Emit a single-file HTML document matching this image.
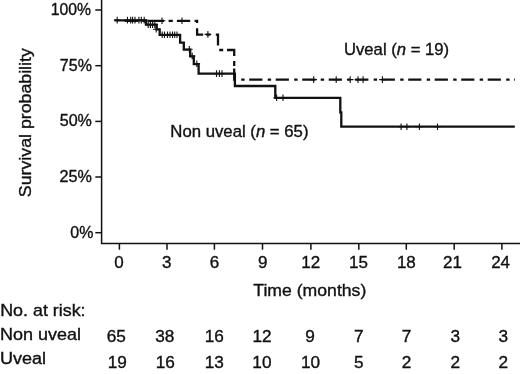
<!DOCTYPE html><html><head><meta charset="utf-8"><title>Survival</title><style>html,body{margin:0;padding:0;background:#fff}svg{display:block}text{font-family:"Liberation Sans",Arial,Helvetica,sans-serif;fill:#111;stroke:#111;stroke-width:0.35px}</style></head><body>
<svg width="520" height="374" viewBox="0 0 520 374">
<rect width="520" height="374" fill="#fff"/>
<g stroke="#111" stroke-width="1.5" fill="none">
<path d="M101.6 0V243.5H520"/>
<path d="M95.3 232.7H101.6"/>
<path d="M95.3 177.0H101.6"/>
<path d="M95.3 121.4H101.6"/>
<path d="M95.3 65.7H101.6"/>
<path d="M95.3 10.0H101.6"/>
<path d="M119.4 243.5V249.7"/>
<path d="M167.0 243.5V249.7"/>
<path d="M214.4 243.5V249.7"/>
<path d="M262.5 243.5V249.7"/>
<path d="M310.9 243.5V249.7"/>
<path d="M358.8 243.5V249.7"/>
<path d="M406.3 243.5V249.7"/>
<path d="M454.2 243.5V249.7"/>
<path d="M501.9 243.5V249.7"/>
</g>
<text transform="translate(50.67 14.95) scale(0.9725 1)" font-size="16.2">100%</text>
<text transform="translate(59.85 70.70) scale(0.9896 1)" font-size="16.2">75%</text>
<text transform="translate(59.71 126.25) scale(0.9941 1)" font-size="16.2">50%</text>
<text transform="translate(59.54 181.75) scale(0.9993 1)" font-size="16.2">25%</text>
<text transform="translate(70.31 237.65) scale(0.9868 1)" font-size="16.2">0%</text>
<text transform="translate(114.24 267.55) scale(1.0000 1)" font-size="17.0">0</text>
<text transform="translate(161.93 267.55) scale(1.0000 1)" font-size="17.0">3</text>
<text transform="translate(209.80 267.55) scale(1.0000 1)" font-size="17.0">6</text>
<text transform="translate(257.88 267.55) scale(1.0000 1)" font-size="17.0">9</text>
<text transform="translate(301.20 267.55) scale(1.0000 1)" font-size="17.0">12</text>
<text transform="translate(348.97 267.55) scale(1.0000 1)" font-size="17.0">15</text>
<text transform="translate(396.92 267.55) scale(1.0000 1)" font-size="17.0">18</text>
<text transform="translate(443.02 267.55) scale(1.0000 1)" font-size="17.0">21</text>
<text transform="translate(491.14 267.55) scale(1.0000 1)" font-size="17.0">24</text>
<text transform="translate(253.30 295.75) scale(1.0440 1)" font-size="16.9">Time (months)</text>
<text transform="translate(0.22 315.95) scale(1.1170 1)" font-size="16">No. at risk:</text>
<text transform="translate(-0.09 340.40) scale(1.1251 1)" font-size="16">Non uveal</text>
<text transform="translate(-0.00 364.30) scale(1.1284 1)" font-size="16">Uveal</text>
<text transform="translate(344.00 54.90) scale(1.0413 1)" font-size="16">Uveal (<tspan font-style="italic">n</tspan> = 19)</text>
<text transform="translate(170.31 137.45) scale(1.0665 1)" font-size="15.7">Non uveal (<tspan font-style="italic">n</tspan> = 65)</text>
<text transform="translate(30.8 197.15) rotate(-90) scale(1.0273 1)" font-size="17.3">Survival probability</text>
<text transform="translate(106.76 341.60) scale(1.0500 1)" font-size="16.4">65</text>
<text transform="translate(155.29 341.60) scale(1.0500 1)" font-size="16.4">38</text>
<text transform="translate(204.69 341.60) scale(1.0500 1)" font-size="16.4">16</text>
<text transform="translate(252.48 341.60) scale(1.0500 1)" font-size="16.4">12</text>
<text transform="translate(305.22 341.60) scale(1.0500 1)" font-size="16.4">9</text>
<text transform="translate(354.07 341.60) scale(1.0500 1)" font-size="16.4">7</text>
<text transform="translate(401.87 341.60) scale(1.0500 1)" font-size="16.4">7</text>
<text transform="translate(450.62 341.60) scale(1.0500 1)" font-size="16.4">3</text>
<text transform="translate(498.42 341.60) scale(1.0500 1)" font-size="16.4">3</text>
<text transform="translate(107.68 368.00) scale(1.0500 1)" font-size="16.4">19</text>
<text transform="translate(155.69 368.00) scale(1.0500 1)" font-size="16.4">16</text>
<text transform="translate(204.69 368.00) scale(1.0500 1)" font-size="16.4">13</text>
<text transform="translate(252.35 368.00) scale(1.0500 1)" font-size="16.4">10</text>
<text transform="translate(301.05 368.00) scale(1.0500 1)" font-size="16.4">10</text>
<text transform="translate(354.07 368.00) scale(1.0500 1)" font-size="16.4">5</text>
<text transform="translate(401.87 368.00) scale(1.0500 1)" font-size="16.4">2</text>
<text transform="translate(450.62 368.00) scale(1.0500 1)" font-size="16.4">2</text>
<text transform="translate(498.42 368.00) scale(1.0500 1)" font-size="16.4">2</text>
<path d="M114.5 20.3 L146 20.3 L146 24.7 L156.7 24.7 L156.7 29.3 L159.7 29.3 L159.7 34.8 L180.1 34.8 L180.1 42.6 L183.8 42.6 L183.8 49.7 L190.2 49.7 L190.2 56.3 L193.8 56.3 L193.8 64.1 L198.6 64.1 L198.6 73.6 L234.9 73.6 L234.9 86.0 L275.3 86.0 L275.3 97.8 L340.3 97.8 L340.3 112.3 L341.3 112.3 L341.3 126.7 L514.8 126.7" fill="none" stroke="#111" stroke-width="2.3" stroke-linejoin="miter"/>
<path d="M124.7 20.8H137.9M142.3 20.8H146.6M147.5 20.8H164.0M168.6 20.8H172.8M176.9 20.8H190.2M194.6 20.8H197.1V23.1M197.1 28.2V34.6H203.2M206.2 34.6H210.4M215.8 34.6H218.0V45.6M219.2 50.0H223.2M227.0 50.0H234.2V56M234.2 61V66M234.2 68.4V79.6H235M241.2 79.6H244.6M249.2 79.6H262.4M267.7 79.6H271.1M275.7 79.6H288.9M294.2 79.6H297.6M302.2 79.6H315.4M320.7 79.6H324.1M328.7 79.6H341.9M347.2 79.6H350.6M355.2 79.6H368.4M373.7 79.6H377.1M381.7 79.6H394.9M400.2 79.6H403.6M408.2 79.6H421.4M426.7 79.6H430.1M434.7 79.6H447.9M453.2 79.6H456.6M461.2 79.6H474.4M479.7 79.6H483.1M487.7 79.6H500.9M506.2 79.6H509.6M514.2 79.6H515.0" fill="none" stroke="#111" stroke-width="2.3" stroke-linejoin="miter"/>
<path d="M113.9 20.1H120.5M117.2 16.8V23.400000000000002M124.2 20.1H130.8M127.5 16.8V23.400000000000002M127.39999999999999 20.1H134.0M130.7 16.8V23.400000000000002M129.29999999999998 20.1H135.9M132.6 16.8V23.400000000000002M131.7 20.1H138.3M135 16.8V23.400000000000002M135.6 20.1H142.20000000000002M138.9 16.8V23.400000000000002M138.0 20.1H144.60000000000002M141.3 16.8V23.400000000000002M140.89999999999998 20.1H147.5M144.2 16.8V23.400000000000002M144.89999999999998 24.7H151.5M148.2 21.4V28.0M147.1 24.7H153.70000000000002M150.4 21.4V28.0M149.29999999999998 24.7H155.9M152.6 21.4V28.0M151.5 24.7H158.10000000000002M154.8 21.4V28.0M152.89999999999998 29.3H159.5M156.2 26.0V32.6M158.89999999999998 34.8H165.5M162.2 31.499999999999996V38.099999999999994M161.2 34.8H167.8M164.5 31.499999999999996V38.099999999999994M164.2 34.8H170.8M167.5 31.499999999999996V38.099999999999994M166.7 34.8H173.3M170 31.499999999999996V38.099999999999994M169.2 34.8H175.8M172.5 31.499999999999996V38.099999999999994M171.39999999999998 34.8H178.0M174.7 31.499999999999996V38.099999999999994M173.7 34.8H180.3M177 31.499999999999996V38.099999999999994M186.0 49.2H192.60000000000002M189.3 45.900000000000006V52.5M188.89999999999998 56.0H195.5M192.2 52.7V59.3M193.5 63.8H200.10000000000002M196.8 60.5V67.1M213.2 73.6H219.8M216.5 70.3V76.89999999999999M216.1 73.6H222.70000000000002M219.4 70.3V76.89999999999999M218.7 73.6H225.3M222 70.3V76.89999999999999M273.3 97.8H279.90000000000003M276.6 94.5V101.1M279.7 97.8H286.3M283 94.5V101.1M397.8 126.7H404.40000000000003M401.1 123.4V130.0M403.59999999999997 126.7H410.2M406.9 123.4V130.0M416.09999999999997 126.7H422.7M419.4 123.4V130.0M434.2 126.7H440.8M437.5 123.4V130.0M158.7 20.8H165.3M162 17.5V24.1M178.7 20.8H185.3M182 17.5V24.1M204.6 34.4H211.20000000000002M207.9 31.099999999999998V37.699999999999996M310.4 79.6H317.0M313.7 76.3V82.89999999999999M332.9 79.6H339.5M336.2 76.3V82.89999999999999M346.9 79.6H353.5M350.2 76.3V82.89999999999999M354.7 79.6H361.3M358 76.3V82.89999999999999M359.8 79.6H366.40000000000003M363.1 76.3V82.89999999999999M379.09999999999997 79.6H385.7M382.4 76.3V82.89999999999999" fill="none" stroke="#111" stroke-width="1.1"/>
</svg></body></html>
